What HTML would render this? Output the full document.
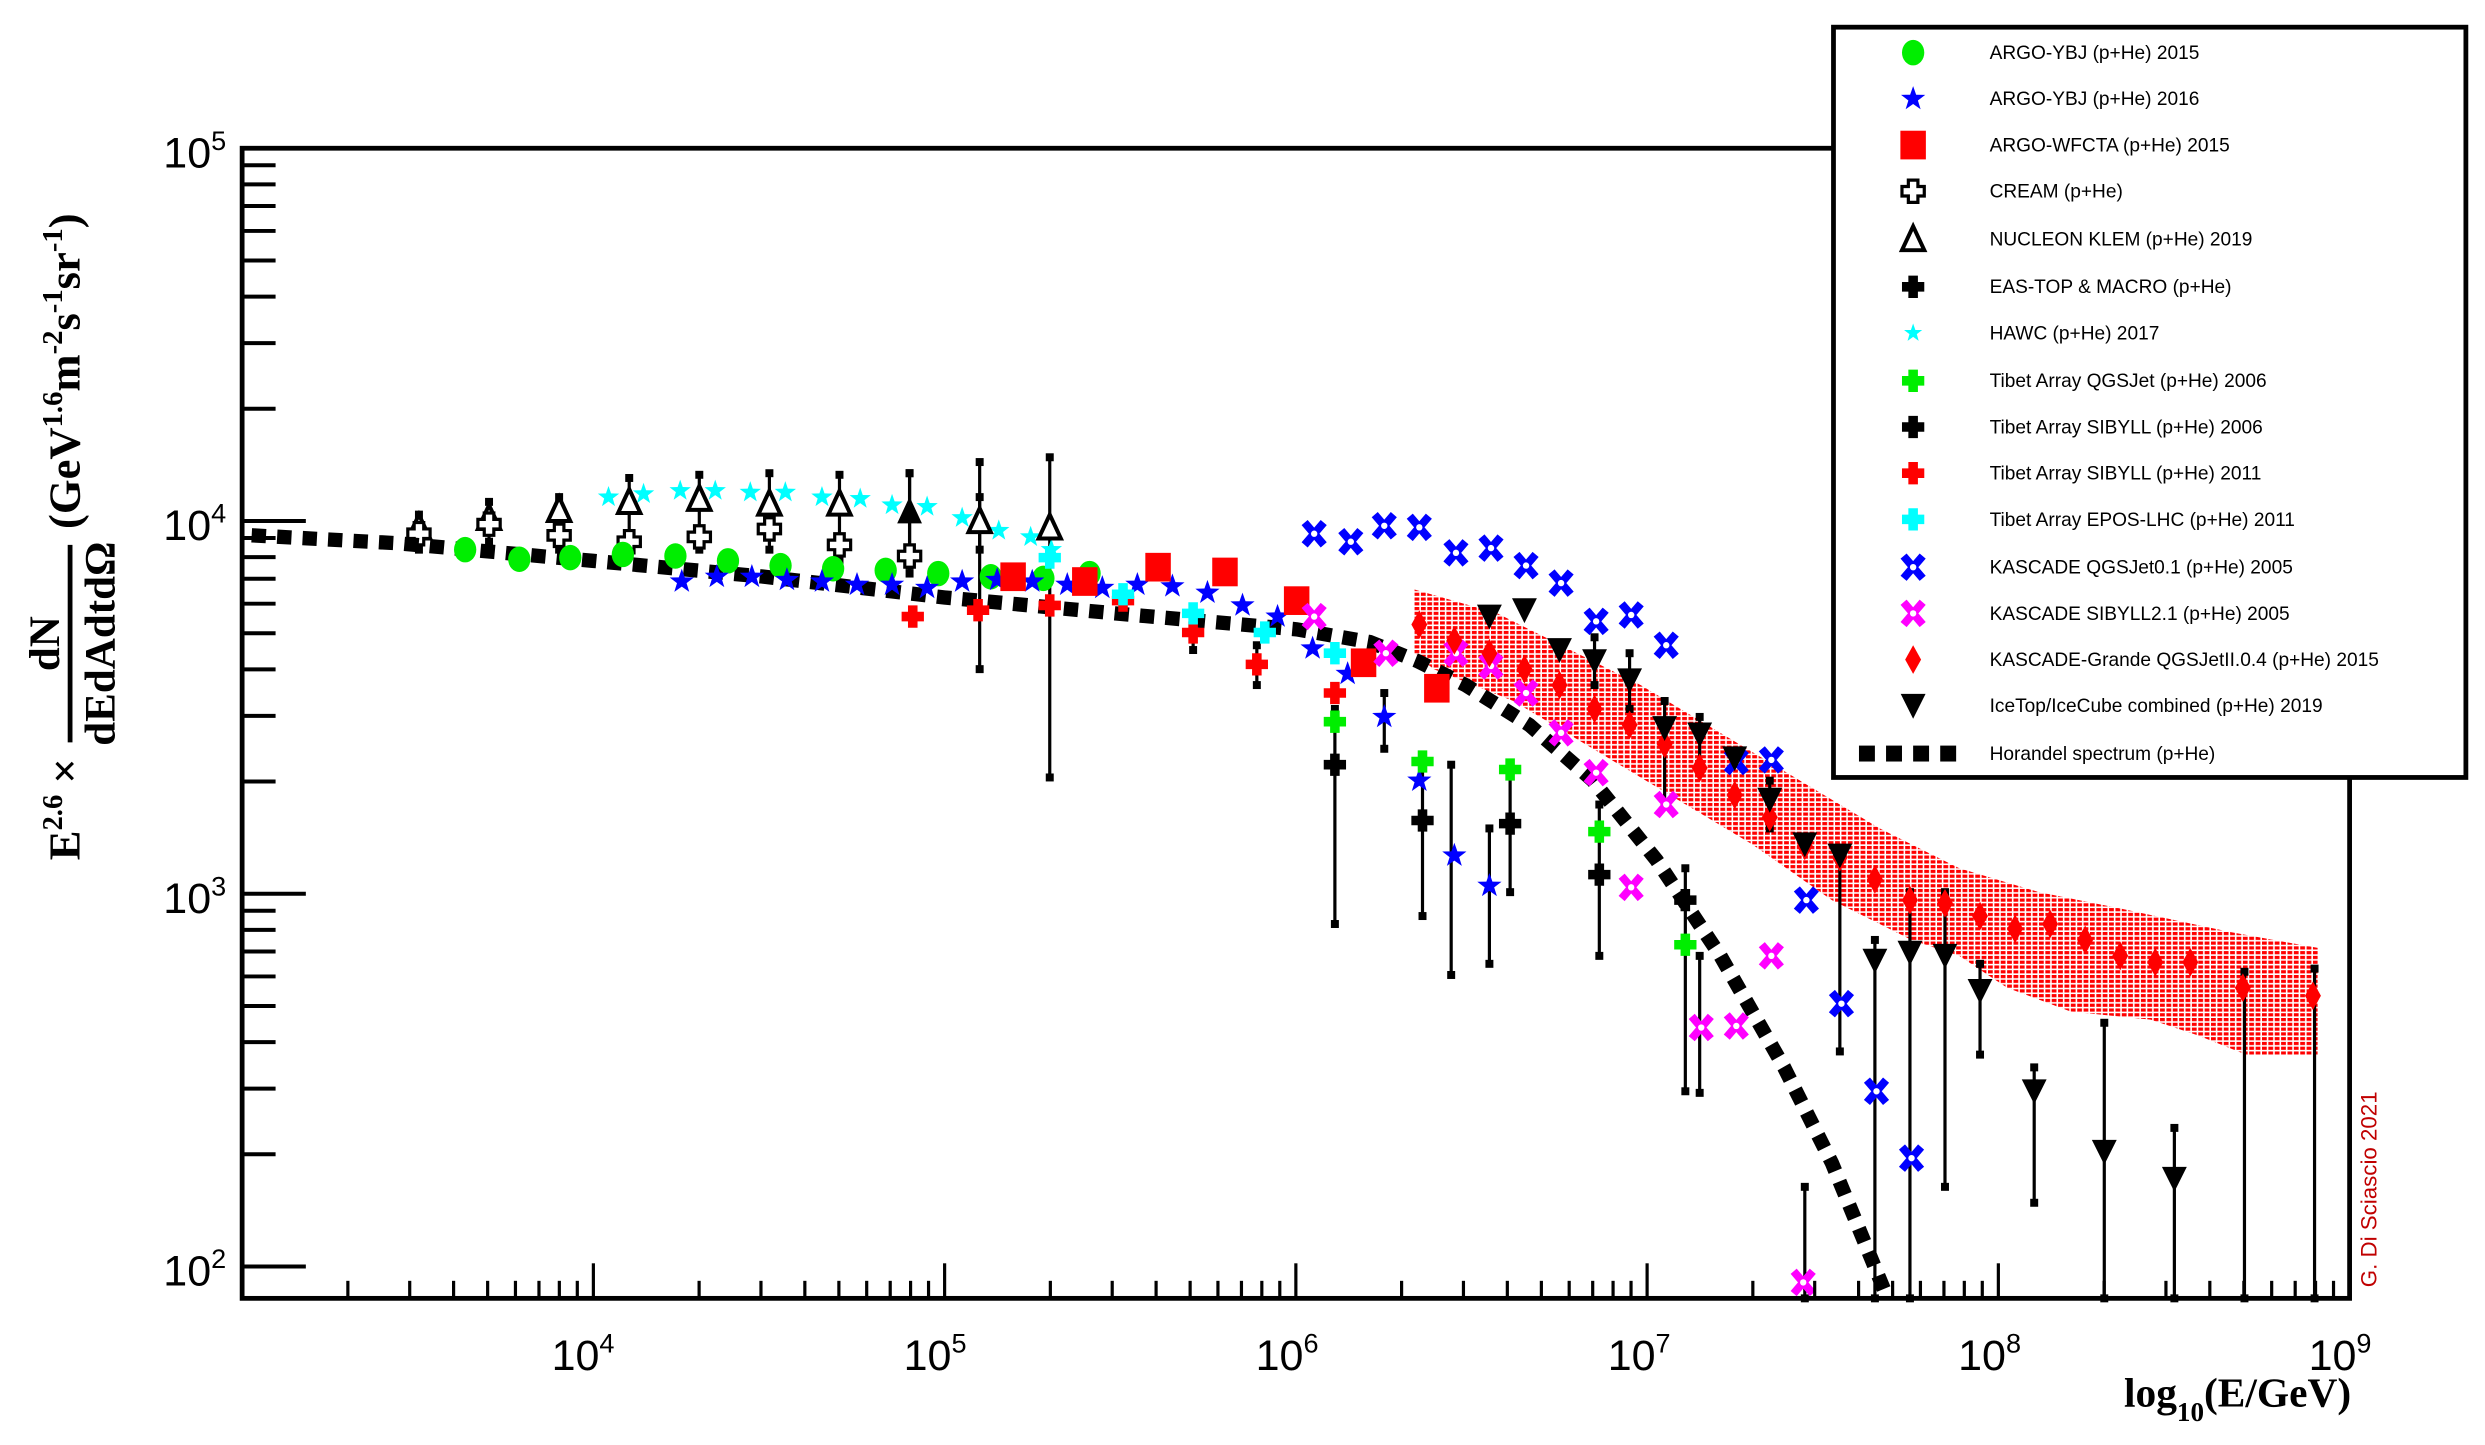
<!DOCTYPE html>
<html><head><meta charset="utf-8"><style>html,body{margin:0;padding:0;background:#fff}svg{display:block}</style></head>
<body>
<svg id="s" width="2485" height="1445" viewBox="0 0 1560 907" xmlns="http://www.w3.org/2000/svg">
<defs>
<pattern id="dots" width="4" height="3" patternUnits="userSpaceOnUse"><rect width="4" height="3" fill="#fff"/><rect width="3" height="2" fill="#f00"/></pattern>
</defs>
<rect width="1560" height="907" fill="#fff"/>
<g id="band"></g>
<g id="data"></g>
<g id="axes"></g>
<g id="leg"></g>
</svg>
<script>
const NS="http://www.w3.org/2000/svg";
function el(p,t,a,txt){const e=document.createElementNS(NS,t);for(const k in a)e.setAttribute(k,a[k]);if(txt!==undefined)e.textContent=txt;document.getElementById(p).appendChild(e);return e;}
el('band','polygon',{points:"888,370 940,385 990,410 1030,430 1080,460 1130,490 1180,520 1230,545 1280,560 1330,570 1400,585 1455,595 1455,662 1410,662 1380,650 1350,640 1300,635 1260,620 1230,600 1200,590 1150,565 1100,530 1050,500 1000,470 950,440 900,420 888,410",fill:"url(#dots)"});
function circ(x,y,c){el('data','ellipse',{cx:x,cy:y,rx:7,ry:8,fill:c});}
function star(x,y,c,r){r=r||8;let p=[];for(let i=0;i<10;i++){const a=-Math.PI/2+i*Math.PI/5;const rr=i%2?r*0.4:r;p.push((x+rr*Math.cos(a)).toFixed(1)+','+(y+rr*Math.sin(a)).toFixed(1));}el('data','polygon',{points:p.join(' '),fill:c});}
function sq(x,y,c){el('data','rect',{x:x-8,y:y-9,width:16,height:18,fill:c});}
function plus(x,y,c,open){const w=3,l=7;const d=`M${x-w},${y-l}h${2*w}v${l-w}h${l-w}v${2*w}h${-(l-w)}v${l-w}h${-2*w}v${-(l-w)}h${-(l-w)}v${-2*w}h${l-w}z`;el('data','path',{d:d,fill:open?'#fff':c,stroke:open?c:'none','stroke-width':2});}
function tri(x,y,c,open,down){const d=down?`M${x-7},${y-7}L${x+7},${y-7}L${x},${y+7}z`:`M${x-7},${y+7}L${x+7},${y+7}L${x},${y-8}z`;el('data','path',{d:d,fill:open?'#fff':c,stroke:c,'stroke-width':open?2.5:1});}
function xx(x,y,c){const d=`M${x-6},${y-7}L${x+6},${y+7}M${x+6},${y-7}L${x-6},${y+7}`;el('data','path',{d:d,stroke:c,'stroke-width':5,fill:'none'});el('data','circle',{cx:x,cy:y,r:2,fill:'#fff'});}
function dia(x,y,c){el('data','path',{d:`M${x},${y-9}L${x+5},${y}L${x},${y+9}L${x-5},${y}z`,fill:c});}
function eb(x,t,b){el('data','line',{x1:x,y1:t,x2:x,y2:b,stroke:'#000','stroke-width':2});el('data','rect',{x:x-2.5,y:t-2.5,width:5,height:5,fill:'#000'});el('data','rect',{x:x-2.5,y:b-2.5,width:5,height:5,fill:'#000'});}
[[615,290,420],[659,287,488],[571,297,360],[838,445,580],[893,475,575],[911,480,612],[935,520,605],[948,480,560],[1004,505,600],[1058,545,685],[1067,600,686],[1133,745,815],[1155,540,660],[1177,590,815],[1199,560,815],[1221,560,745],[1243,605,662],[1277,670,755],[1321,642,815],[1365,708,815],[1409,610,815],[1453,608,815],[1045,440,505],[1067,450,480],[1111,490,520],[1001,400,430],[1023,410,445],[869,435,470],[789,405,430],[749,388,408]].forEach(e=>eb(...e));
[[263,323,345],[307,315,340],[351,312,345],[395,300,345],[439,298,345],[483,297,345],[527,298,352],[571,297,355],[615,312,345]].forEach(e=>eb(...e));
[[382,312],[404,310],[427,308],[449,308],[471,309],[493,309],[516,312],[540,313],[560,317],[582,318],[604,325],[627,333],[647,337],[660,345]].forEach(p=>star(p[0],p[1],'#00ffff',7));
[[263,331],[307,325],[351,320],[395,315],[439,313],[483,316],[527,316],[615,327],[659,331]].forEach(p=>tri(p[0],p[1],'#000',true));
tri(571,321,'#000',false);
[[263,335],[307,329],[351,336],[395,340],[439,337],[483,332],[527,342],[571,349]].forEach(p=>plus(p[0],p[1],'#000',true));
el('data','polyline',{points:"158,336 250,341 372,352 480,362 593,375 700,385 814,395 860,403 890,415 920,430 960,455 1000,490 1040,540 1080,600 1120,670 1150,730 1185,815",fill:'none',stroke:'#000','stroke-width':9,'stroke-dasharray':'9 7'});
[[292,345],[326,351],[358,350],[391,348],[424,349],[457,352],[490,355],[523,357],[556,358],[589,360],[622,362],[655,363],[684,360]].forEach(p=>circ(p[0],p[1],'#00ee00'));
[[428,365],[450,362],[472,362],[494,364],[516,365],[538,367],[560,367],[582,369],[604,365],[626,364],[648,365],[670,367],[692,369],[714,367],[736,368],[758,372],[780,380],[802,387],[824,407],[846,423],[869,450],[891,490],[913,537],[935,556]].forEach(p=>star(p[0],p[1],'#0000ff',8));
[[636,362],[681,365],[727,356],[769,359],[814,377],[856,416],[902,432]].forEach(p=>sq(p[0],p[1],'#ff0000'));
[[573,387],[614,383],[659,380],[705,377],[749,397],[789,417],[838,435]].forEach(p=>plus(p[0],p[1],'#ff0000'));
[[659,350],[705,373],[749,385],[794,397],[838,410]].forEach(p=>plus(p[0],p[1],'#00ffff'));
[[838,480],[893,515],[948,517],[1004,549],[1058,565]].forEach(p=>plus(p[0],p[1],'#000'));
[[838,453],[893,478],[948,483],[1004,522],[1058,593]].forEach(p=>plus(p[0],p[1],'#00ee00'));
[[825,335],[848,340],[869,330],[891,331],[914,347],[936,344],[958,355],[980,366],[1002,390],[1024,386],[1046,405],[1090,478],[1112,477],[1134,565],[1156,630],[1178,685],[1200,727]].forEach(p=>xx(p[0],p[1],'#0000ff'));
[[825,387],[870,410],[914,410],[936,418],[958,435],[980,460],[1002,485],[1024,557],[1046,505],[1068,645],[1090,644],[1112,600],[1132,805]].forEach(p=>xx(p[0],p[1],'#ff00ff'));
[[891,392],[913,402],[935,410],[957,420],[979,430],[1001,445],[1023,455],[1045,467],[1067,482],[1089,499],[1111,513],[1133,531],[1155,538],[1177,552],[1199,565],[1221,567],[1243,575],[1265,583],[1287,580],[1309,590],[1331,600],[1353,604],[1375,604],[1408,620],[1452,625]].forEach(p=>dia(p[0],p[1],'#ff0000'));
[[935,387],[957,383],[979,408],[1001,415],[1023,427],[1045,457],[1067,461],[1089,476],[1111,502],[1133,530],[1155,537],[1177,603],[1199,598],[1221,600],[1243,622],[1277,685],[1321,723],[1365,740]].forEach(p=>tri(p[0],p[1],'#000',false,true));
el('axes','rect',{x:152,y:93,width:1323,height:722,fill:'none',stroke:'#000','stroke-width':3});
for(let d=2;d<=5;d++){for(let m=1;m<10;m++){const ly=d+Math.log10(m);if(ly>5.0001)break;const y=93+(5-ly)*234;if(y>815)continue;el('axes','line',{x1:152,y1:y,x2:m==1?192:173,y2:y,stroke:'#000','stroke-width':2.5});}}
for(let d=3;d<=9;d++){for(let m=1;m<10;m++){const lx=d+Math.log10(m);if(lx>9.0001)break;const x=152+(lx-3)*220.5;if(x<152)continue;el('axes','line',{x1:x,y1:815,x2:x,y2:m==1?793:804,stroke:'#000','stroke-width':2});}}
const tf='font-family:"Liberation Sans",sans-serif';
[[5,93],[4,327],[3,561],[2,795]].forEach(([d,y])=>{const t=el('axes','text',{x:142,y:y+12,'text-anchor':'end',style:tf+';font-size:27px'});t.innerHTML=`10<tspan dy="-11" font-size="17">${d}</tspan>`;});
[[4,372],[5,593],[6,814],[7,1035],[8,1255],[9,1475]].forEach(([d,x])=>{const t=el('axes','text',{x:x-6,y:860,'text-anchor':'middle',style:tf+';font-size:27px'});t.innerHTML=`10<tspan dy="-11" font-size="17">${d}</tspan>`;});
const sf='font-family:"Liberation Serif","DejaVu Serif",serif;font-weight:bold';
let t=el('axes','text',{x:1476,y:883,'text-anchor':'end',style:sf+';font-size:26px'});t.innerHTML='log<tspan dy="9" font-size="17">10</tspan><tspan dy="-9">(E/GeV)</tspan>';
const g=el('axes','g',{transform:'translate(50,540) rotate(-90)'});
g.innerHTML=`<text x="0" y="0" style='${sf};font-size:28px'>E<tspan dy="-11" font-size="18">2.6</tspan><tspan dy="11"> × </tspan></text>
<text x="136" y="-13" text-anchor="middle" style='${sf};font-size:27px'>dN</text>
<text x="136" y="22" text-anchor="middle" style='${sf};font-size:27px'>dEdAdtdΩ</text>
<line x1="74" y1="-6" x2="198" y2="-6" stroke="#000" stroke-width="3"/>
<text x="208" y="0" style='${sf};font-size:28px'>(GeV<tspan dy="-11" font-size="18">1.6</tspan><tspan dy="11">m</tspan><tspan dy="-11" font-size="18">-2</tspan><tspan dy="11">s</tspan><tspan dy="-11" font-size="18">-1</tspan><tspan dy="11">sr</tspan><tspan dy="-11" font-size="18">-1</tspan><tspan dy="11">)</tspan></text>`;
document.getElementById('axes').appendChild(g);
el('axes','text',{transform:'translate(1492,808) rotate(-90)',style:tf+';font-size:14px',fill:'#c00000'},'G. Di Sciascio 2021');
el('leg','rect',{x:1151,y:17,width:397,height:471,fill:'#fff',stroke:'#000','stroke-width':3});
const L=[['c','ARGO-YBJ (p+He) 2015'],['s','ARGO-YBJ (p+He) 2016'],['q','ARGO-WFCTA (p+He) 2015'],['po','CREAM (p+He)'],['to','NUCLEON KLEM (p+He) 2019'],['pk','EAS-TOP & MACRO (p+He)'],['sc','HAWC (p+He) 2017'],['pg','Tibet Array QGSJet (p+He) 2006'],['pk','Tibet Array SIBYLL (p+He) 2006'],['pr','Tibet Array SIBYLL (p+He) 2011'],['pc','Tibet Array EPOS-LHC (p+He) 2011'],['xb','KASCADE QGSJet0.1 (p+He) 2005'],['xm','KASCADE SIBYLL2.1 (p+He) 2005'],['d','KASCADE-Grande QGSJetII.0.4 (p+He) 2015'],['td','IceTop/IceCube combined (p+He) 2019'],['h','Horandel spectrum (p+He)']];
const ys=[33,62,91,120,150,180,209,239,268,297,326,356,385,414,443,473];
const data0=document.getElementById('data');
L.forEach((e,i)=>{const y=ys[i],x=1201;
 const fns={c:()=>circ(x,y,'#00ee00'),s:()=>star(x,y,'#0000ff',8),q:()=>sq(x,y,'#ff0000'),po:()=>plus(x,y,'#000',true),to:()=>tri(x,y,'#000',true),pk:()=>plus(x,y,'#000'),sc:()=>star(x,y,'#00ffff',6),pg:()=>plus(x,y,'#00ee00'),pr:()=>plus(x,y,'#ff0000'),pc:()=>plus(x,y,'#00ffff'),xb:()=>xx(x,y,'#0000ff'),xm:()=>xx(x,y,'#ff00ff'),d:()=>dia(x,y,'#ff0000'),td:()=>tri(x,y,'#000',false,true),h:()=>{for(let k=0;k<4;k++)el('data','rect',{x:1167+k*17,y:y-5,width:10,height:10,fill:'#000'});}};
 fns[e[0]]();
 el('leg','text',{x:1249,y:y+4,style:tf+';font-size:12px'},e[1]);
});
const leg=document.getElementById('leg');
[...data0.childNodes].forEach(k=>{try{const b=k.getBBox();if(b.x>1155&&b.y<490&&b.x<1240)leg.appendChild(k);}catch(err){}});
</script>
</body></html>
